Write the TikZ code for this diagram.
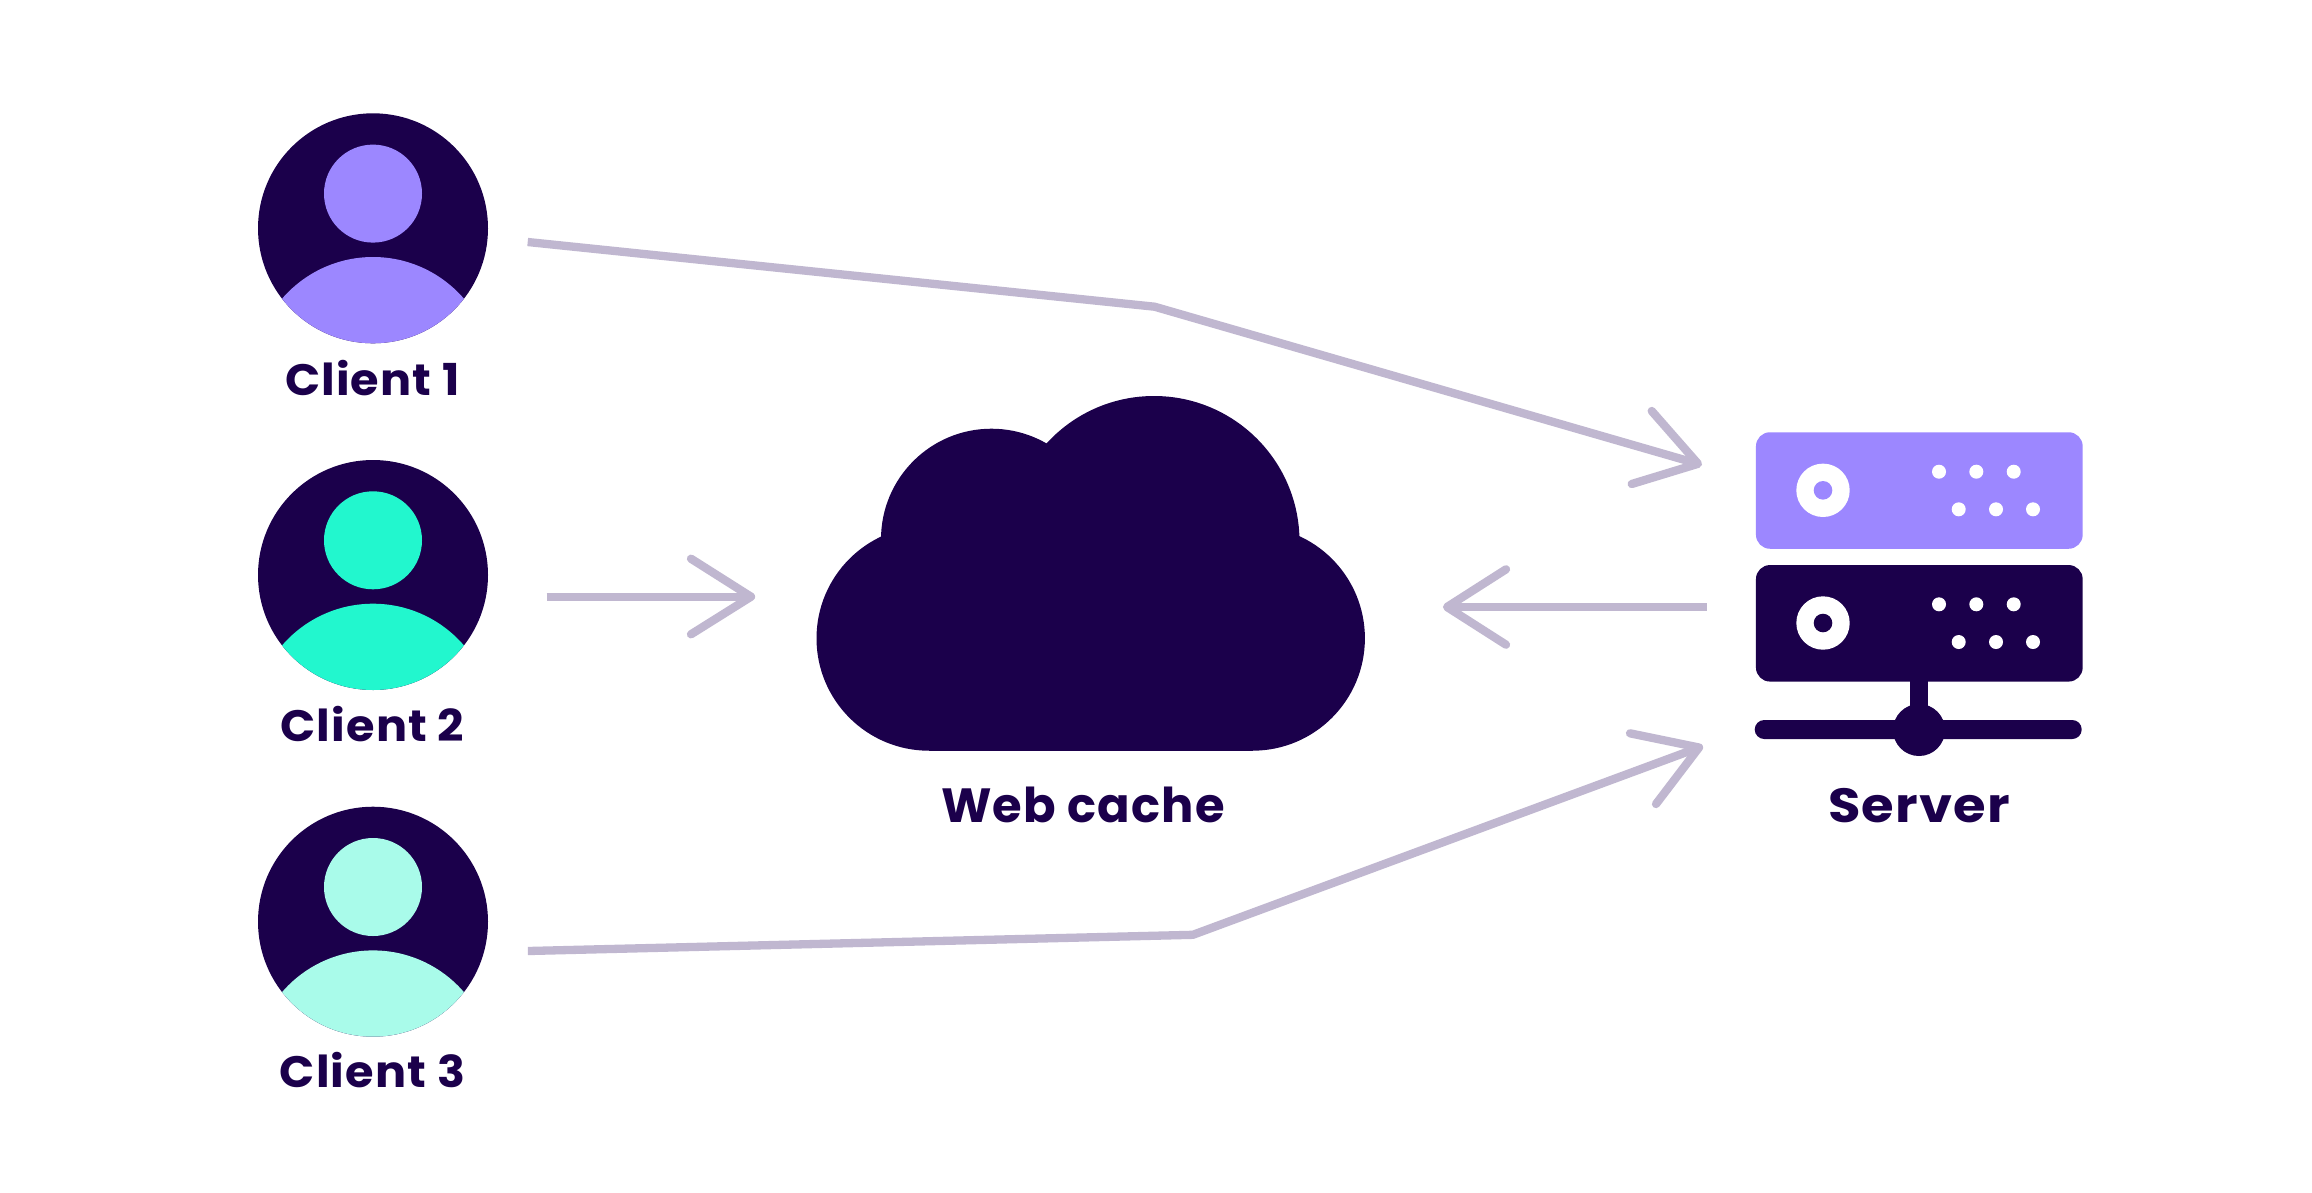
\documentclass[tikz,border=0pt]{standalone}
\usepackage{fontspec}
\newfontfamily\labfont{Poppins}[LetterSpace=2.5,FakeStretch=1.05]
\newfontfamily\bigfont{Poppins}[LetterSpace=2.5]
\newfontfamily\widefont{Poppins}[LetterSpace=2.5,FakeStretch=1.1]
\definecolor{ink}{HTML}{1B004B}
\definecolor{violet}{HTML}{9C87FF}
\definecolor{mint}{HTML}{22F7CE}
\definecolor{pale}{HTML}{A9FBEA}
\definecolor{wire}{HTML}{C0B7D0}
\tikzset{
  disc/.style={circle,inner sep=0pt,outer sep=0pt,draw=none,fill=#1},
  lab/.style={anchor=base,inner sep=0pt,text=ink,font=\labfont\bfseries\fontsize{44}{52}\selectfont},
  biglab/.style={anchor=base,inner sep=0pt,text=ink,font=\bigfont\bfseries\fontsize{48}{56}\selectfont},
  widelab/.style={anchor=base,inner sep=0pt,text=ink,font=\widefont\bfseries\fontsize{48}{56}\selectfont},
  wireline/.style={draw=wire,line width=8.3pt,line cap=butt,line join=miter},
  wirehead/.style={draw=wire,line width=8.3pt,line cap=round,line join=round},
  rack/.style={rectangle,draw=none,fill=#1,rounded corners=14pt,inner sep=0pt,outer sep=0pt,minimum width=326.7pt,minimum height=116.5pt},
}
\begin{document}
\begin{tikzpicture}[x=1pt,y=-1pt]
\fill[white] (0,0) rectangle (2312,1192);
\useasboundingbox (0,0) rectangle (2312,1192);
% clients
\foreach \n/\cy/\col/\by in {1/228.3/violet/395,2/575/mint/741,3/921.7/pale/1087}{
  \node[disc=ink,minimum size=230pt] (client\n) at (373,\cy) {};
  \begin{scope}
    \clip (373,\cy) circle (115pt);
    \fill[\col] (373,\cy+148.7) circle (120pt);
  \end{scope}
  \node[disc=\col,minimum size=98pt] (head\n) at (373,\cy-34.7) {};
  \node[lab] (label\n) at (372.5,\by) {Client \n};
}
% cloud
\coordinate (cache) at (1090,600);
\begin{scope}[ink]
  \fill (928.9,638.3) circle (112.4pt);
  \fill (1252.5,638.3) circle (112.4pt);
  \fill (991.4,539.1) circle (110.4pt);
  \fill (1154,541.5) circle (145.5pt);
  \fill (881.2,538) rectangle (1299.3,640);
  \fill (928.9,600) rectangle (1252.5,750.7);
\end{scope}
\node[biglab] (labelcache) at (1083,822) {Web cache};
% server
\node[rack=violet] (rackA) at (1919.3,490.5) {};
\node[rack=ink] (rackB) at (1919.3,623.3) {};
\fill[ink] (1910,675) rectangle (1928.3,725);
\node[rectangle,draw=none,fill=ink,rounded corners=9.5pt,inner sep=0pt,minimum width=327pt,minimum height=19pt] (bus) at (1918.2,729.5) {};
\node[disc=ink,minimum size=52pt] (hub) at (1919,730) {};
\node[disc=white,minimum size=53.4pt] (ringA) at (1823,490.3) {};
\node[disc=violet,minimum size=18.6pt] (coreA) at (1823,490.3) {};
\node[disc=white,minimum size=53.4pt] (ringB) at (1823,623) {};
\node[disc=ink,minimum size=18.6pt] (coreB) at (1823,623) {};
\foreach \r/\ya/\yb in {A/471.7/509.3,B/604.3/642}{
  \foreach \i/\x in {1/1939,2/1976.3,3/2013.7}{
    \node[disc=white,minimum size=14pt] (dot\r\i) at (\x,\ya) {};
  }
  \foreach \i/\x in {4/1958.7,5/1996,6/2033}{
    \node[disc=white,minimum size=14pt] (dot\r\i) at (\x,\yb) {};
  }
}
\node[widelab] (labelserver) at (1919,822.5) {Server};
% connector points
\coordinate (a1) at (527.7,242);
\coordinate (a2) at (1154.6,306.7);
\coordinate (a3) at (1698,463.8);
\coordinate (a4) at (1651.7,411);
\coordinate (a5) at (1631.7,484);
\coordinate (b1) at (546.7,596.7);
\coordinate (b2) at (751,596.7);
\coordinate (b3) at (691,558.7);
\coordinate (b4) at (691,634.3);
\coordinate (c1) at (1706.7,607);
\coordinate (c2) at (1447,607);
\coordinate (c3) at (1506,569.3);
\coordinate (c4) at (1506,644.7);
\coordinate (d1) at (527.9,951);
\coordinate (d2) at (1192.9,934.8);
\coordinate (d3) at (1699,747.5);
\coordinate (d4) at (1630,733.3);
\coordinate (d5) at (1656,804);
% connectors
\draw[wireline] (a1) -- (a2) -- (a3);
\draw[wirehead] (a4) -- (a3) -- (a5);
\draw[wireline] (b1) -- (b2);
\draw[wirehead] (b3) -- (b2) -- (b4);
\draw[wireline] (c1) -- (c2);
\draw[wirehead] (c3) -- (c2) -- (c4);
\draw[wireline] (d1) -- (d2) -- (d3);
\draw[wirehead] (d4) -- (d3) -- (d5);
\end{tikzpicture}
\end{document}
